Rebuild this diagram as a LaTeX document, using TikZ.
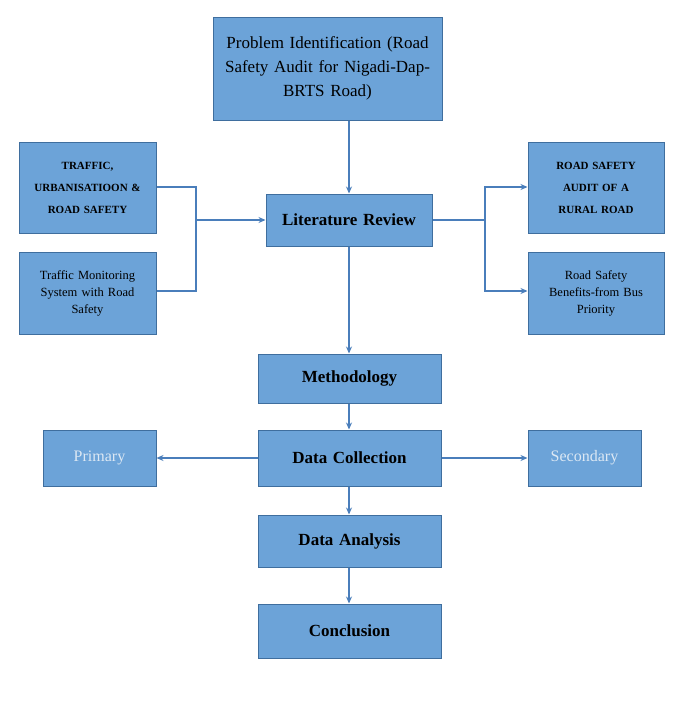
\documentclass[tikz,border=0pt]{standalone}
\usepackage{fontspec}
\setmainfont{Liberation Serif}
\usetikzlibrary{arrows.meta}
\begin{document}
\begin{tikzpicture}[x=1pt,y=-1pt,
 box/.style={draw=bd,fill=bf,line width=1pt,align=center,inner sep=2pt},
 arr/.style={draw=ar,line width=1.2pt,-{Stealth[length=7pt,width=6pt]}},
 ln/.style={draw=ar,line width=1.2pt}]
\definecolor{bf}{HTML}{6CA3D8}
\definecolor{bd}{HTML}{3F6E9E}
\definecolor{ar}{HTML}{4A7EBB}
\definecolor{lt}{HTML}{DCE8F4}
\useasboundingbox (0,0) rectangle (685,723);
\fill[white] (0,0) rectangle (685,723);
\newcommand{\bx}[7]{\node[box,minimum width=#4-#2,minimum height=#5-#3,text width=#4-#2-8,font=#6] (#1) at ({(#2+#4)/2},{(#3+#5)/2}) {#7};}
\bx{prob}{213}{17}{442}{120}{\fontsize{17}{24}\selectfont}{Problem Identification (Road\\Safety Audit for Nigadi-Dap-\\BRTS Road)}
\bx{lit}{266}{194}{432}{246}{\fontsize{17}{20}\selectfont\bfseries}{Literature Review}
\bx{tr}{19}{142}{156}{233}{\fontsize{11}{22}\selectfont\bfseries}{TRAFFIC,\\URBANISATIOON \&\\ROAD SAFETY}
\bx{tm}{19}{252}{156}{334}{\fontsize{12.5}{17}\selectfont}{Traffic Monitoring\\System with Road\\Safety}
\bx{rs}{528}{142}{664}{233}{\fontsize{11}{22}\selectfont\bfseries}{ROAD SAFETY\\AUDIT OF A\\RURAL ROAD}
\bx{rb}{528}{252}{664}{334}{\fontsize{12.5}{17}\selectfont}{Road Safety\\Benefits-from Bus\\Priority}
\bx{meth}{258}{354}{441}{403}{\fontsize{17}{20}\selectfont\bfseries}{Methodology}
\bx{dc}{258}{430}{441}{486}{\fontsize{17}{20}\selectfont\bfseries}{Data Collection}
\bx{pri}{43}{430}{156}{486}{\fontsize{16}{20}\selectfont}{\textcolor{lt}{Primary}}
\bx{sec}{528}{430}{641}{486}{\fontsize{16}{20}\selectfont}{\textcolor{lt}{Secondary}}
\bx{da}{258}{515}{441}{567}{\fontsize{17}{20}\selectfont\bfseries}{Data Analysis}
\bx{con}{258}{604}{441}{658}{\fontsize{17}{20}\selectfont\bfseries}{Conclusion}
\coordinate (jl) at (196,220);
\coordinate (jr) at (485,220);
\draw[arr] (prob.south -| 349,0) -- (lit.north -| 349,0);
\draw[ln] (tr.east |- 0,187) -| (jl);
\draw[ln] (tm.east |- 0,291) -| (jl);
\draw[arr] (jl) -- (lit.west |- jl);
\draw[ln] (lit.east |- jr) -- (jr);
\draw[arr] (jr) |- (rs.west |- 0,187);
\draw[arr] (jr) |- (rb.west |- 0,291);
\draw[arr] (lit.south -| 349,0) -- (meth.north -| 349,0);
\draw[arr] (meth.south -| 349,0) -- (dc.north -| 349,0);
\draw[arr] (dc.south -| 349,0) -- (da.north -| 349,0);
\draw[arr] (da.south -| 349,0) -- (con.north -| 349,0);
\draw[arr] (dc.west) -- (pri.east);
\draw[arr] (dc.east) -- (sec.west);
\end{tikzpicture}
\end{document}
